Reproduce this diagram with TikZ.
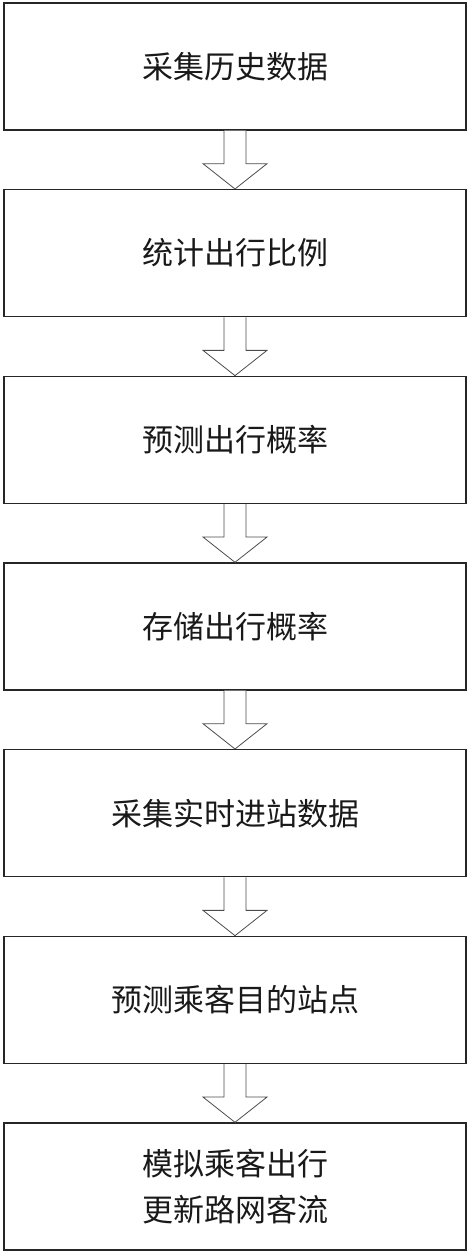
\documentclass[tikz,border=0pt]{standalone}
\usepackage{fontspec}
\newfontfamily\cjk{Noto Sans CJK SC}
\usetikzlibrary{calc}
\begin{document}
\begin{tikzpicture}[x=1pt,y=1pt,
  stepbox/.style={draw=black!85,line width=1.4pt,minimum width=462pt,minimum height=127pt,
    inner sep=0pt,align=center,font=\cjk\fontsize{31}{46}\selectfont,text=black!90},
  blockarrow/.style={draw=black!70,line width=0.8pt,fill=white,line join=miter}]
\useasboundingbox (0,0) rectangle (474,-1260);
\foreach \i/\t in {1/采集历史数据,2/统计出行比例,3/预测出行概率,4/存储出行概率,5/采集实时进站数据,6/预测乘客目的站点,7/{模拟乘客出行\\更新路网客流}}{
  \node[stepbox] (b\i) at (235,{-(66.5+186.67*(\i-1))}) {\t};
}
\foreach \i [evaluate=\i as \j using int(\i+1)] in {1,...,6}{
  \draw[blockarrow] ($(b\i.south)+(-11,0)$) -- ++(0,-33) -- ++(-21,0)
    -- ($(b\j.north)$) -- ($(b\i.south)+(32,-33)$) -- ++(-21,0) -- ($(b\i.south)+(11,0)$);
}
\end{tikzpicture}
\end{document}
